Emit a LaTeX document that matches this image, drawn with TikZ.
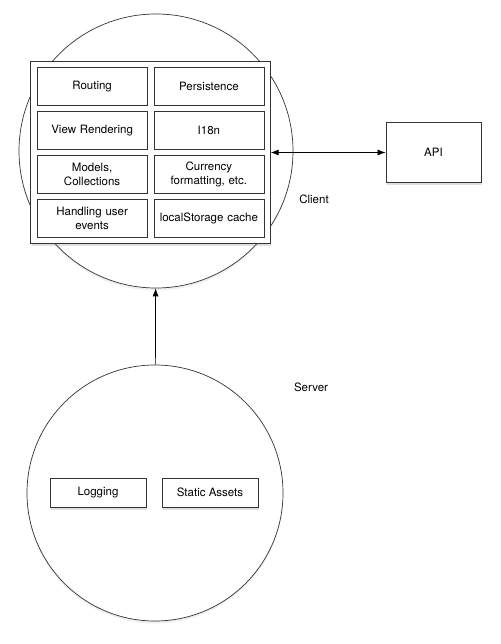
\documentclass[tikz,border=0pt]{standalone}
\usepackage{fontspec}
\setmainfont{TeX Gyre Heros}
\usetikzlibrary{matrix,arrows.meta,shadows}
\tikzstyle{boxmatrix}=[matrix of nodes,draw=black!80,fill=white,line width=0.8pt,row sep=5pt,column sep=6pt,inner sep=6pt,
  drop shadow={opacity=0.25,shadow xshift=1pt,shadow yshift=-2.5pt}]
\tikzstyle{cell}=[draw=black!80,line width=0.8pt,text width=104pt,align=center,minimum height=38pt,inner sep=3pt,anchor=center]
\tikzstyle{tier}=[circle,draw=black!80,line width=0.7pt,fill=white,
  drop shadow={opacity=0.12,shadow xshift=0pt,shadow yshift=-2.5pt}]
\tikzstyle{shadowbox}=[draw=black!80,line width=0.8pt,fill=white,
  drop shadow={opacity=0.25,shadow xshift=1pt,shadow yshift=-2.5pt}]
\tikzstyle{link}=[draw,line width=0.7pt,>={Latex[length=8pt,width=6pt]}]

\begin{document}
\begin{tikzpicture}[x=1pt,y=1pt,font=\fontsize{11.5}{13.5}\selectfont]
  \useasboundingbox (0,0) rectangle (500,-644);

  \node[tier,minimum size=274pt] (client) at (156,-151) {};
  \node[tier,minimum size=256pt] (server) at (155,-493) {};

  \matrix(C)[boxmatrix,nodes={cell}] at (150.5,-152.5){
    Routing & Persistence \\
    View Rendering & I18n \\
    {Models,\\Collections} & {Currency\\formatting, etc.} \\
    {Handling user\\events} & localStorage cache \\
  };

  \node[shadowbox,minimum width=95pt,minimum height=60pt] (api) at (433.5,-152.5) {API};
  \node (clientlabel) at (314,-199) {Client};
  \node (serverlabel) at (311,-387) {Server};

  \node[shadowbox,minimum width=96pt,minimum height=29pt] (logging) at (98,-492.5) {Logging};
  \node[shadowbox,minimum width=96pt,minimum height=29pt] (assets) at (210,-492.5) {Static Assets};

  \path[link,<->] (C) -- (api);
  \path[link,->] (server) -- (client);
\end{tikzpicture}
\end{document}
